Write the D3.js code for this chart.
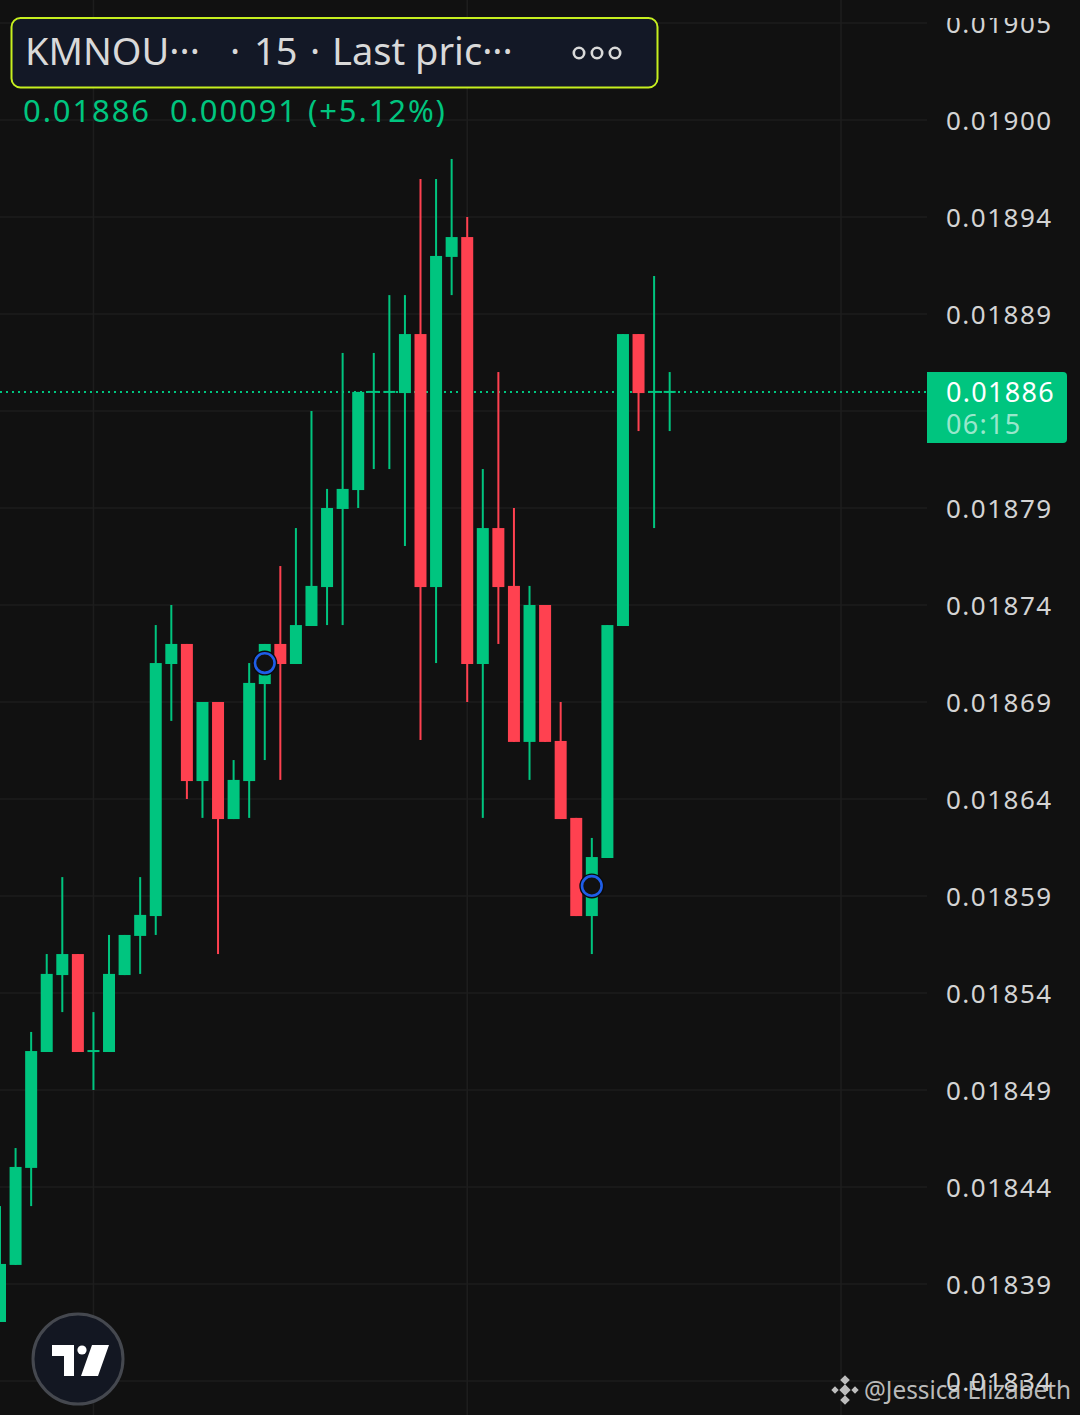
<!DOCTYPE html>
<html>
<head>
<meta charset="utf-8">
<script src="https://cdn.jsdelivr.net/npm/d3@7"></script>
<style>
  body { margin: 0; background: #111111; }
  svg { display: block; }
</style>
</head>
<body>
<script>

// **** data *****************

// right axis: price at each grid line + the label shown there
const tickValues = [0.0190455, 0.0189952, 0.0189449, 0.0188946, 0.0188443, 0.0187940, 0.0187437,
  0.0186934, 0.0186431, 0.0185928, 0.0185425, 0.0184922, 0.0184419, 0.0183916, 0.0183413];
const tickLabels = ["0.01905", "0.01900", "0.01894", "0.01889", "0.01884", "0.01879", "0.01874",
  "0.01869", "0.01864", "0.01859", "0.01854", "0.01849", "0.01844", "0.01839", "0.01834"];

// 15m candles, oldest first
const openP = [
  0.0183719, 0.0184015, 0.0184518, 0.0185119, 0.0185518, 0.0185627, 0.0185124, 0.0185119, 0.0185518, 0.0185721,
  0.0185824, 0.0187131, 0.0187235, 0.0186524, 0.0186934, 0.0186327, 0.0186524, 0.0187027, 0.0187235, 0.0187131,
  0.0187328, 0.0187530, 0.0187935, 0.0188033, 0.0188542, 0.0188542, 0.0188536, 0.0188842, 0.0187530, 0.0189242,
  0.0189345, 0.0187131, 0.0187836, 0.0187536, 0.0186727, 0.0187437, 0.0186732, 0.0186333, 0.0185824, 0.0186125,
  0.0187328, 0.0188842, 0.0188542, 0.0188542];
const highP = [
  0.0184320, 0.0184621, 0.0185223, 0.0185627, 0.0186026, 0.0185627, 0.0185326, 0.0185726, 0.0185726, 0.0186026,
  0.0187333, 0.0187437, 0.0187235, 0.0186934, 0.0186934, 0.0186633, 0.0187136, 0.0187235, 0.0187639, 0.0187836,
  0.0188443, 0.0188039, 0.0188744, 0.0188542, 0.0188744, 0.0189044, 0.0189044, 0.0189646, 0.0189646, 0.0189750,
  0.0189449, 0.0188142, 0.0188645, 0.0187940, 0.0187536, 0.0187437, 0.0186934, 0.0186333, 0.0186229, 0.0187333,
  0.0188842, 0.0188842, 0.0189143, 0.0188645];
const lowP = [
  0.0183719, 0.0184015, 0.0184320, 0.0185119, 0.0185326, 0.0185119, 0.0184922, 0.0185119, 0.0185518, 0.0185524,
  0.0185726, 0.0186836, 0.0186431, 0.0186333, 0.0185627, 0.0186327, 0.0186333, 0.0186633, 0.0186530, 0.0187131,
  0.0187328, 0.0187333, 0.0187333, 0.0187940, 0.0188142, 0.0188142, 0.0187743, 0.0186737, 0.0187136, 0.0189044,
  0.0186934, 0.0186333, 0.0187235, 0.0186727, 0.0186530, 0.0186727, 0.0186327, 0.0185824, 0.0185627, 0.0186125,
  0.0187328, 0.0188339, 0.0187836, 0.0188339];
const closeP = [
  0.0184020, 0.0184523, 0.0185124, 0.0185524, 0.0185627, 0.0185119, 0.0185124, 0.0185524, 0.0185726, 0.0185830,
  0.0187136, 0.0187235, 0.0186524, 0.0186934, 0.0186327, 0.0186530, 0.0187033, 0.0187235, 0.0187131, 0.0187333,
  0.0187536, 0.0187940, 0.0188039, 0.0188542, 0.0188542, 0.0188542, 0.0188842, 0.0187530, 0.0189247, 0.0189345,
  0.0187131, 0.0187836, 0.0187530, 0.0186727, 0.0187437, 0.0186727, 0.0186327, 0.0185824, 0.0186130, 0.0187333,
  0.0188842, 0.0188536, 0.0188542, 0.0188542];

// vertical grid lines sit on these candle slots
const gridSlots = [6, 30, 54];

// the two circle markers (candle slot, price)
const markerSlot = [17, 38];
const markerPrice = [0.0187136, 0.0185980];

const lastPriceText = "0.01886";
const countdownText = "06:15";
const changeText = "0.00091 (+5.12%)";

// **** setup *****************

const W = 1080, H = 1415;
const axisLeft = 927;
const green = "#00c57f", red = "#ff4150";

const svg = d3.select("body").append("svg")
  .attr("width", W)
  .attr("height", H)
  .style("font-family", "'Noto Sans', 'Open Sans', sans-serif");

svg.append("rect").attr("width", W).attr("height", H).attr("fill", "#111111");

const x = d3.scaleLinear().domain([0, 54]).range([0, 841]);
const y = d3.scaleLinear().domain([tickValues[0], tickValues[14]]).range([23, 1381]);

const candles = openP.map((o, i) => ({ i, o, h: highP[i], l: lowP[i], c: closeP[i] }));
const last = closeP[closeP.length - 1];
const ty = y(last);

// **** grid *****************

const grid = svg.append("g").attr("stroke", "#1d1d1d").attr("stroke-width", 1.6);

grid.selectAll(".hgrid")
  .data(tickValues)
  .join("line")
  .attr("x1", 0).attr("x2", axisLeft)
  .attr("y1", d => y(d)).attr("y2", d => y(d));

grid.selectAll(".vgrid")
  .data(gridSlots)
  .join("line")
  .attr("x1", d => x(d)).attr("x2", d => x(d))
  .attr("y1", 0).attr("y2", H);

// **** last price line *****************

svg.append("line")
  .attr("x1", 0).attr("x2", axisLeft)
  .attr("y1", ty).attr("y2", ty)
  .attr("stroke", green)
  .attr("stroke-width", 2)
  .attr("stroke-dasharray", "2 4");

// **** candles *****************

const candle = svg.append("g")
  .selectAll("g")
  .data(candles)
  .join("g")
  .attr("fill", d => d.c >= d.o ? green : red);

candle.append("rect")
  .attr("x", d => x(d.i) - 1)
  .attr("width", 2)
  .attr("y", d => y(d.h))
  .attr("height", d => Math.max(1, y(d.l) - y(d.h)));

candle.append("rect")
  .attr("x", d => x(d.i) - 6)
  .attr("width", 12)
  .attr("y", d => {
    const top = y(Math.max(d.o, d.c)), bot = y(Math.min(d.o, d.c));
    return bot - top < 2 ? (top + bot) / 2 - 1 : top;
  })
  .attr("height", d => Math.max(2, Math.abs(y(d.o) - y(d.c))));

// **** markers *****************

const marker = svg.append("g")
  .selectAll("g")
  .data(markerSlot)
  .join("g")
  .attr("transform", (d, k) => `translate(${x(d)},${y(markerPrice[k])})`);

marker.append("circle").attr("r", 11).attr("fill", "#111111").attr("stroke", "#0a0a0a").attr("stroke-width", 3);
marker.append("circle").attr("r", 9.8).attr("fill", "none").attr("stroke", "#1f5ee8").attr("stroke-width", 2.6);

// **** right axis *****************

svg.append("clipPath").attr("id", "axclip")
  .append("rect").attr("x", axisLeft).attr("y", 18).attr("width", W - axisLeft).attr("height", H);

const axis = svg.append("g")
  .attr("clip-path", "url(#axclip)")
  .attr("font-size", 26)
  .attr("letter-spacing", 1.5)
  .attr("fill", "#d4d4d4");

// labels hidden under the price tag are not drawn
axis.selectAll("text")
  .data(tickValues.map((v, i) => ({ v, label: tickLabels[i] })).filter(d => Math.abs(y(d.v) - ty) > 30))
  .join("text")
  .attr("x", 946)
  .attr("y", d => y(d.v) + 10)
  .text(d => d.label);

// price tag
svg.append("path")
  .attr("d", `M${axisLeft},${ty - 20} H1063 Q1067,${ty - 20} 1067,${ty - 16} V${ty + 47} Q1067,${ty + 51} 1063,${ty + 51} H${axisLeft} Z`)
  .attr("fill", green);

svg.append("text")
  .attr("x", 946).attr("y", ty + 10.5)
  .attr("font-size", 27).attr("letter-spacing", 1.3)
  .attr("fill", "#ffffff")
  .text(lastPriceText);

svg.append("text")
  .attr("x", 946).attr("y", ty + 42)
  .attr("font-size", 27).attr("letter-spacing", 1.3)
  .attr("fill", "#ffffff").attr("fill-opacity", 0.62)
  .text(countdownText);

// **** legend box *****************

svg.append("rect")
  .attr("x", 11.5).attr("y", 18)
  .attr("width", 646).attr("height", 69.5)
  .attr("rx", 9)
  .attr("fill", "#131826")
  .attr("stroke", "#c6ef1f")
  .attr("stroke-width", 2);

const head = svg.append("g").attr("font-size", 38).attr("fill", "#d9d9d9");
head.append("text").attr("x", 25).attr("y", 65).text("KMNOU\u00b7\u00b7\u00b7");
head.append("text").attr("x", 235).attr("y", 65).attr("text-anchor", "middle").text("\u00b7");
head.append("text").attr("x", 254).attr("y", 65).text("15");
head.append("text").attr("x", 315).attr("y", 65).attr("text-anchor", "middle").text("\u00b7");
head.append("text").attr("x", 332).attr("y", 65).text("Last pric\u00b7\u00b7\u00b7");

head.selectAll("circle")
  .data([579, 597, 615])
  .join("circle")
  .attr("cx", d => d).attr("cy", 53).attr("r", 5.2)
  .attr("fill", "none").attr("stroke", "#d9d9d9").attr("stroke-width", 2.6);

const sub = svg.append("g").attr("font-size", 31).attr("letter-spacing", 1.9).attr("fill", green);
sub.append("text").attr("x", 23).attr("y", 121.5).text(lastPriceText);
sub.append("text").attr("x", 170).attr("y", 121.5).text(changeText);

// **** logo + watermark *****************

const logo = svg.append("g").attr("transform", "translate(78,1359)");
logo.append("circle").attr("r", 45).attr("fill", "#131722").attr("stroke", "#45484f").attr("stroke-width", 3);
logo.append("path").attr("fill", "#ffffff")
  .attr("d", "M-26,-14 H-4 V17 H-14 V-3 H-26 Z M14,-14 H31 L20,17 H3 Z");
logo.append("circle").attr("cx", 4).attr("cy", -9).attr("r", 4.6).attr("fill", "#ffffff");

const wm = svg.append("g").attr("fill", "#d2d2d2").attr("fill-opacity", 0.9);
const bn = wm.append("g").attr("transform", "translate(845,1390)");
bn.selectAll("rect")
  .data([[0, 0, 4], [-10, 0, 2.6], [10, 0, 2.6], [0, -10, 3.4], [0, 10, 3.4]])
  .join("rect")
  .attr("x", d => -d[2]).attr("y", d => -d[2])
  .attr("width", d => d[2] * 2).attr("height", d => d[2] * 2)
  .attr("transform", d => `translate(${d[0]},${d[1]}) rotate(45)`);

wm.append("text")
  .attr("x", 864).attr("y", 1399)
  .attr("font-size", 26)
  .attr("textLength", 207)
  .attr("lengthAdjust", "spacingAndGlyphs")
  .text("@Jessica Elizabeth");

</script>
</body>
</html>
